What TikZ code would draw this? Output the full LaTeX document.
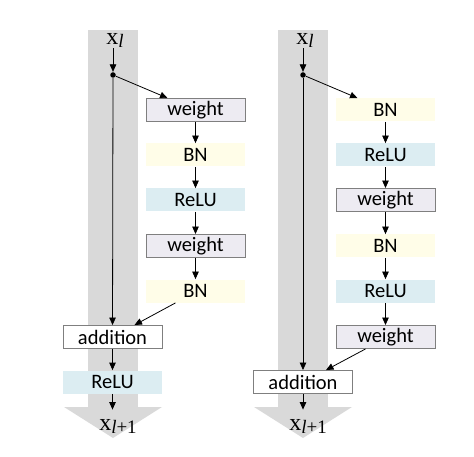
\documentclass[tikz,border=0pt]{standalone}
\usepackage{fontspec}
\setsansfont{Carlito}
\newfontfamily\xfont{Liberation Serif}
\usetikzlibrary{arrows.meta}

\definecolor{bandgray}{HTML}{D9D9D9}
\definecolor{weightfill}{HTML}{EDEBF2}
\definecolor{bnfill}{HTML}{FFFDE8}
\definecolor{relufill}{HTML}{DCEDF2}
\definecolor{boxline}{HTML}{7F7F7F}

\newcommand{\sublabel}[1]{\raisebox{-3pt}{\fontsize{19}{19}\selectfont #1}}

\tikzset{
    block/.style={minimum width=99pt, minimum height=23pt, inner sep=0pt,
        font=\sffamily\fontsize{20.5}{22}\selectfont},
    weightbox/.style={block, draw=boxline, fill=weightfill, line width=0.9pt},
    bnbox/.style={block, fill=bnfill},
    relubox/.style={block, fill=relufill},
    addbox/.style={block, draw=boxline, fill=white, line width=0.9pt},
    xlabel/.style={inner sep=1pt, font=\xfont\fontsize{24}{26}\selectfont},
    junction/.style={circle, fill, inner sep=0pt, minimum size=5.5pt},
}

\begin{document}
\begin{tikzpicture}[x=1pt, y=-1pt, line width=0.8pt,
    >={Triangle[length=7.5pt, width=6.5pt]}]
    \useasboundingbox (0, 0) rectangle (474, 457);
    % grey bands behind the identity paths
    \foreach \c in {113, 303} {
        \fill[bandgray] (\c-25, 30) rectangle (\c+25, 407);
        \fill[bandgray] (\c-49, 407) -- (\c+49, 407) -- (\c, 438) -- cycle;
    }

    % left: original residual unit
    \node[xlabel] (xl1) at (115, 40) {x\sublabel{\itshape l}};
    \node[junction] (dot1) at (113, 75) {};
    \node[weightbox] (w1) at (195.5, 110) {weight};
    \node[bnbox] (bn1) at (195.5, 155) {BN};
    \node[relubox] (r1) at (195.5, 200) {ReLU};
    \node[weightbox] (w2) at (195.5, 246) {weight};
    \node[bnbox] (bn2) at (195.5, 291) {BN};
    \node[addbox] (add1) at (112.5, 337) {addition};
    \node[relubox] (r2) at (112.5, 382) {ReLU};
    \node[xlabel] (xo1) at (118, 426) {x\sublabel{\itshape l\upshape+1}};

    \draw[->] (xl1.south -| dot1) -- (dot1);
    \draw[->] (dot1) -- ([xshift=-28pt]w1.north);
    \draw[->] (w1) -- (bn1);
    \draw[->] (bn1) -- (r1);
    \draw[->] (r1) -- (w2);
    \draw[->] (w2) -- (bn2);
    \draw[->] ([xshift=-20pt]bn2.south) -- ([xshift=22pt]add1.north);
    \draw[->] (dot1) -- (add1);
    \draw[->] (add1) -- (r2);
    \draw[->] (r2) -- ([yshift=8pt]r2.south |- xo1.north);

    % right: pre-activation residual unit
    \node[xlabel] (xl2) at (305, 40) {x\sublabel{\itshape l}};
    \node[junction] (dot2) at (303, 75) {};
    \node[bnbox] (bnA) at (385.5, 110) {BN};
    \node[relubox] (rA) at (385.5, 155) {ReLU};
    \node[weightbox] (wA) at (385.5, 200) {weight};
    \node[bnbox] (bnB) at (385.5, 246) {BN};
    \node[relubox] (rB) at (385.5, 291) {ReLU};
    \node[weightbox] (wB) at (385.5, 337) {weight};
    \node[addbox] (add2) at (303, 382) {addition};
    \node[xlabel] (xo2) at (308, 426) {x\sublabel{\itshape l\upshape+1}};

    \draw[->] (xl2.south -| dot2) -- (dot2);
    \draw[->] (dot2) -- ([xshift=-28pt]bnA.north);
    \draw[->] (bnA) -- (rA);
    \draw[->] (rA) -- (wA);
    \draw[->] (wA) -- (bnB);
    \draw[->] (bnB) -- (rB);
    \draw[->] (rB) -- (wB);
    \draw[->] ([xshift=-20pt]wB.south) -- ([xshift=23pt]add2.north);
    \draw[->] (dot2) -- (add2);
    \draw[->] (add2) -- ([yshift=8pt]add2.south |- xo2.north);
\end{tikzpicture}
\end{document}
